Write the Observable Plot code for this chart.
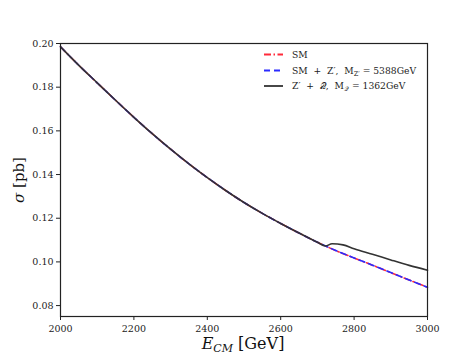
<!DOCTYPE html>
<html>
<head>
<meta charset="utf-8">
<script src="https://cdn.jsdelivr.net/npm/d3@7"></script>
<script src="https://cdn.jsdelivr.net/npm/@observablehq/plot@0.6"></script>
<style>
  html, body { margin: 0; padding: 0; background: #fff; }
  svg { font-family: "DejaVu Serif", "Liberation Serif", serif; }
</style>
</head>
<body>
<div id="chart"></div>
<script>
// Centre-of-mass energy (GeV)
const energy = [2000, 2050, 2100, 2150, 2200, 2250, 2300, 2350, 2400, 2450, 2500,
                2550, 2600, 2650, 2700, 2750, 2800, 2850, 2900, 2950, 3000];
// SM cross-section (pb)
const smSigma = [0.1985, 0.1900, 0.1820, 0.1740, 0.1662, 0.1587, 0.1516, 0.1449, 0.1386, 0.1327, 0.1272,
                 0.1222, 0.1176, 0.1132, 0.1090, 0.1052, 0.1018, 0.0985, 0.0951, 0.0917, 0.0884];
// SM + Z' (same as SM within resolution)
const zpSigma = [0.1985, 0.1900, 0.1820, 0.1740, 0.1662, 0.1587, 0.1516, 0.1449, 0.1386, 0.1327, 0.1272,
                 0.1222, 0.1176, 0.1132, 0.1090, 0.1052, 0.1018, 0.0985, 0.0951, 0.0917, 0.0884];
// Z' + Q curve
const zqEnergy = [2000, 2050, 2100, 2150, 2200, 2250, 2300, 2350, 2400, 2450, 2500,
                  2550, 2600, 2650, 2700, 2722, 2740, 2770, 2800, 2850, 2900, 2950, 3000];
const zqSigma = [0.1985, 0.1900, 0.1820, 0.1740, 0.1662, 0.1587, 0.1516, 0.1449, 0.1386, 0.1327, 0.1272,
                 0.1222, 0.1176, 0.1132, 0.1090, 0.1073, 0.1083, 0.1078, 0.1060, 0.1035, 0.1009, 0.0984, 0.0962];

const xTicks = [2000, 2200, 2400, 2600, 2800, 3000];
const yTicks = [0.08, 0.10, 0.12, 0.14, 0.16, 0.18, 0.20];

const sm = energy.map((e, i) => ({e, s: smSigma[i]}));
const zp = energy.map((e, i) => ({e, s: zpSigma[i]}));
const zq = zqEnergy.map((e, i) => ({e, s: zqSigma[i]}));

const chart = Plot.plot({
  width: 474,
  height: 355,
  marginLeft: 60,
  marginRight: 47,
  marginTop: 43,
  marginBottom: 39,
  style: {fontFamily: "DejaVu Serif, Liberation Serif, serif", fontSize: "9.5px", color: "#222"},
  x: {domain: [2000, 3000], ticks: xTicks, tickFormat: d => String(d), tickSize: 4, tickPadding: 5, label: null},
  y: {domain: [0.075, 0.20], ticks: yTicks, tickFormat: d3.format(".2f"), tickSize: 4, tickPadding: 3, label: null},
  marks: [
    Plot.line(sm, {x: "e", y: "s", stroke: "#ff2a3a", strokeWidth: 1.6, strokeDasharray: "7,2.5,1.5,2.5", curve: "monotone-x"}),
    Plot.line(zp, {x: "e", y: "s", stroke: "#2b2bff", strokeWidth: 1.6, strokeDasharray: "6,4", curve: "monotone-x"}),
    Plot.line(zq, {x: "e", y: "s", stroke: "#333333", strokeWidth: 1.6, curve: "monotone-x"}),
    Plot.frame({stroke: "#222", strokeWidth: 1.2})
  ]
});

document.getElementById("chart").appendChild(chart);

const svg = d3.select(chart);
// axis titles
svg.append("text")
  .attr("transform", "translate(24,180) rotate(-90)")
  .attr("text-anchor", "middle")
  .attr("font-size", 15)
  .attr("fill", "#111")
  .html('<tspan font-style="italic">σ</tspan> [pb]');
const xl = svg.append("text")
  .attr("x", 243).attr("y", 349)
  .attr("text-anchor", "middle")
  .attr("font-size", 16)
  .attr("fill", "#111");
xl.append("tspan").attr("font-style", "italic").text("E");
xl.append("tspan").attr("font-style", "italic").attr("font-size", 11).attr("dy", 3).text("CM");
xl.append("tspan").attr("dy", -3).text(" [GeV]");

// legend
const leg = svg.append("g").attr("font-size", 9.2).attr("fill", "#222").attr("text-anchor", "start");
const rows = [
  {y: 54.5, color: "#ff2a3a", dash: "7,2.5,1.5,2.5"},
  {y: 70.5, color: "#2b2bff", dash: "6,4"},
  {y: 86, color: "#333333", dash: null}
];
rows.forEach(r => {
  const l = leg.append("line").attr("x1", 264).attr("x2", 283).attr("y1", r.y).attr("y2", r.y)
    .attr("stroke", r.color).attr("stroke-width", 1.8);
  if (r.dash) l.attr("stroke-dasharray", r.dash);
});
leg.append("text").attr("x", 292).attr("y", 54.5).attr("dy", "0.35em").text("SM");
leg.append("text").attr("x", 292).attr("y", 70.5).attr("dy", "0.35em")
  .html('SM  +  Z′,  M<tspan font-size="6.5" dy="2">Z′</tspan><tspan dy="-2"> = 5388GeV</tspan>');
leg.append("text").attr("x", 292).attr("y", 86).attr("dy", "0.35em")
  .html('Z′  +  𝒬,  M<tspan font-size="6.5" dy="2">𝒬</tspan><tspan dy="-2"> = 1362GeV</tspan>');
</script>
</body>
</html>
